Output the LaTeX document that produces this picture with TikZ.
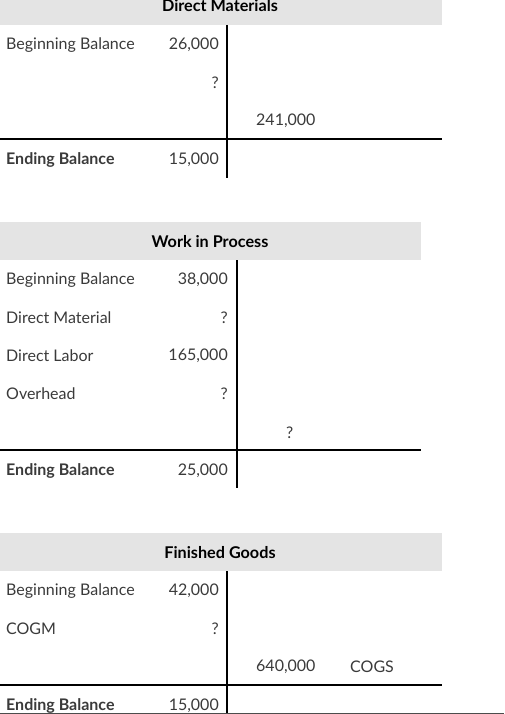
\documentclass[tikz,border=0pt]{standalone}
\usepackage{fontspec}
\setmainfont{Lato}
\usepackage{tikz}

\definecolor{bandgray}{HTML}{E4E4E4}
\definecolor{txtgray}{HTML}{3A3A3A}

\tikzset{
    lbl/.style={anchor=west,inner sep=0pt,text=txtgray,font=\fontsize{16}{18}\selectfont},
    num/.style={anchor=east,inner sep=0pt,text=txtgray,font=\fontsize{16}{18}\selectfont},
    endlbl/.style={lbl,font=\fontsize{16}{18}\selectfont\bfseries},
    title/.style={inner sep=0pt,text=black,font=\fontsize{16.2}{18}\selectfont\bfseries},
    tline/.style={line width=1.2pt,black}
}

\begin{document}
\begin{tikzpicture}[x=1pt,y=-1pt]
    \useasboundingbox (0,0) rectangle (504,714);

    % Direct Materials
    \fill[bandgray] (0,0) rectangle (442,25);
    \node[title] (dmT) at (220,6) {Direct Materials};
    \coordinate (dmV1) at (227,25);
    \coordinate (dmV2) at (227,178);
    \coordinate (dmH1) at (0,139);
    \coordinate (dmH2) at (442,139);
    \draw[tline] (dmV1) to (dmV2);
    \draw[tline] (dmH1) to (dmH2);
    \node[lbl] (dmBB) at (6,45) {Beginning Balance};
    \node[num] (dmBBn) at (219,45) {26,000};
    \node[num] (dmQ) at (219,83) {?};
    \node[lbl] (dmCr) at (256,121) {241,000};
    \node[endlbl] (dmEB) at (6,160) {Ending Balance};
    \node[num] (dmEBn) at (219,160) {15,000};

    % Work in Process
    \fill[bandgray] (0,222) rectangle (421,260);
    \node[title] (wpT) at (210,242) {Work in Process};
    \coordinate (wpV1) at (237,260);
    \coordinate (wpV2) at (237,488);
    \coordinate (wpH1) at (0,450);
    \coordinate (wpH2) at (421,450);
    \draw[tline] (wpV1) to (wpV2);
    \draw[tline] (wpH1) to (wpH2);
    \node[lbl] (wpBB) at (6,280) {Beginning Balance};
    \node[num] (wpBBn) at (228,280) {38,000};
    \node[lbl] (wpDM) at (6,318) {Direct Material};
    \node[num] (wpDMn) at (228,318) {?};
    \node[lbl] (wpDL) at (6,356) {Direct Labor};
    \node[num] (wpDLn) at (228,356) {165,000};
    \node[lbl] (wpOH) at (6,394) {Overhead};
    \node[num] (wpOHn) at (228,394) {?};
    \node[lbl] (wpCr) at (286,433) {?};
    \node[endlbl] (wpEB) at (6,471) {Ending Balance};
    \node[num] (wpEBn) at (228,471) {25,000};

    % Finished Goods
    \fill[bandgray] (0,533) rectangle (442,571);
    \node[title] (fgT) at (220,553) {Finished Goods};
    \coordinate (fgV1) at (227,571);
    \coordinate (fgV2) at (227,714);
    \coordinate (fgH1) at (0,685);
    \coordinate (fgH2) at (442,685);
    \draw[tline] (fgV1) to (fgV2);
    \draw[tline] (fgH1) to (fgH2);
    \node[lbl] (fgBB) at (6,591) {Beginning Balance};
    \node[num] (fgBBn) at (219,591) {42,000};
    \node[lbl] (fgCM) at (6,629) {COGM};
    \node[num] (fgCMn) at (219,629) {?};
    \node[lbl] (fgCr) at (256,667) {640,000};
    \node[lbl] (fgCS) at (350,667) {COGS};
    \node[endlbl] (fgEB) at (6,706) {Ending Balance};
    \node[num] (fgEBn) at (219,706) {15,000};
    \coordinate (fgB1) at (0,713);
    \coordinate (fgB2) at (504,713);
    \draw[line width=1pt,black!70] (fgB1) to (fgB2);
\end{tikzpicture}
\end{document}
